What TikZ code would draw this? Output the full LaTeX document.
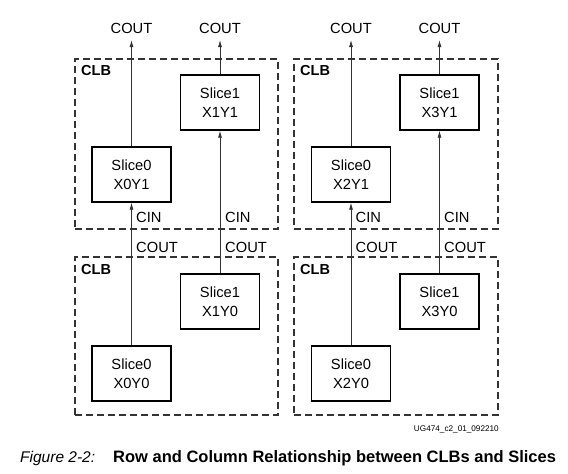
\documentclass[tikz,border=0pt]{standalone}
\usepackage{fontspec}
\setmainfont{Liberation Sans}
\usetikzlibrary{arrows.meta}
\begin{document}
\begin{tikzpicture}[x=1pt,y=-1pt,
  slicebox/.style={draw=black,line width=1.4pt,minimum width=79pt,minimum height=55pt,inner sep=0pt,align=center,font=\fontsize{14.7}{19}\selectfont},
  clbbox/.style={draw=black!80,line width=1.4pt,dash pattern=on 7pt off 4pt,inner sep=0pt},
  clblabel/.style={anchor=west,inner sep=0pt,font=\fontsize{14.5}{16}\selectfont\bfseries},
  sig/.style={inner sep=0pt,font=\fontsize{14.7}{16}\selectfont},
  arr/.style={draw=black!80,line width=0.8pt,-{Latex[length=7pt,width=4pt]}}
]
\useasboundingbox (0,0) rectangle (568,474);
% CLB frames
\node[clbbox,minimum width=203pt,minimum height=170pt] (clbA) at (176.5,144) {};
\node[clbbox,minimum width=203pt,minimum height=158pt] (clbB) at (176.5,336) {};
\node[clbbox,minimum width=204pt,minimum height=170pt] (clbC) at (396,144) {};
\node[clbbox,minimum width=204pt,minimum height=158pt] (clbD) at (396,336) {};
\node[clblabel] (lA) at (81,71) {CLB};
\node[clblabel] (lB) at (81,270) {CLB};
\node[clblabel] (lC) at (300,71) {CLB};
\node[clblabel] (lD) at (300,270) {CLB};
% slices
\node[slicebox] (s01) at (131.5,174.5) {Slice0\\X0Y1};
\node[slicebox] (s11) at (220,102.5) {Slice1\\X1Y1};
\node[slicebox] (s10) at (220,301.5) {Slice1\\X1Y0};
\node[slicebox] (s00) at (131.5,373.5) {Slice0\\X0Y0};
\node[slicebox] (s21) at (351,174.5) {Slice0\\X2Y1};
\node[slicebox] (s31) at (439.5,102.5) {Slice1\\X3Y1};
\node[slicebox] (s30) at (439.5,301.5) {Slice1\\X3Y0};
\node[slicebox] (s20) at (351,373.5) {Slice0\\X2Y0};
% top outputs
\coordinate (t0) at (131.5,40);
\coordinate (t1) at (220,40);
\coordinate (t2) at (351,40);
\coordinate (t3) at (439.5,40);
\node[sig] (o0) at (131.5,28) {COUT};
\node[sig] (o1) at (220,28) {COUT};
\node[sig] (o2) at (351,28) {COUT};
\node[sig] (o3) at (439.5,28) {COUT};
% connectors
\draw[arr] (s01.north) -- (t0);
\draw[arr] (s11.north) -- (t1);
\draw[arr] (s21.north) -- (t2);
\draw[arr] (s31.north) -- (t3);
\draw[arr] (s00.north) -- (s01.south);
\draw[arr] (s10.north) -- (s11.south);
\draw[arr] (s20.north) -- (s21.south);
\draw[arr] (s30.north) -- (s31.south);
% CIN / COUT labels
\node[sig,anchor=west] (ci0) at (136,217) {CIN};
\node[sig,anchor=west] (ci1) at (225,217) {CIN};
\node[sig,anchor=west] (ci2) at (355.5,217) {CIN};
\node[sig,anchor=west] (ci3) at (444,217) {CIN};
\node[sig,anchor=west] (co0) at (136,247) {COUT};
\node[sig,anchor=west] (co1) at (225,247) {COUT};
\node[sig,anchor=west] (co2) at (355.5,247) {COUT};
\node[sig,anchor=west] (co3) at (444,247) {COUT};
% id and caption
\node[anchor=base east,inner sep=0pt,font=\fontsize{8.2}{10}\selectfont] (id) at (499,431) {UG474\_c2\_01\_092210};
\node[anchor=base west,inner sep=0pt,font=\fontsize{15.5}{18}\selectfont\itshape] (fig) at (20,462) {Figure 2-2:};
\node[anchor=base west,inner sep=0pt,font=\fontsize{16.5}{18}\selectfont\bfseries] (cap) at (113,462) {Row and Column Relationship between CLBs and Slices};
\end{tikzpicture}
\end{document}
